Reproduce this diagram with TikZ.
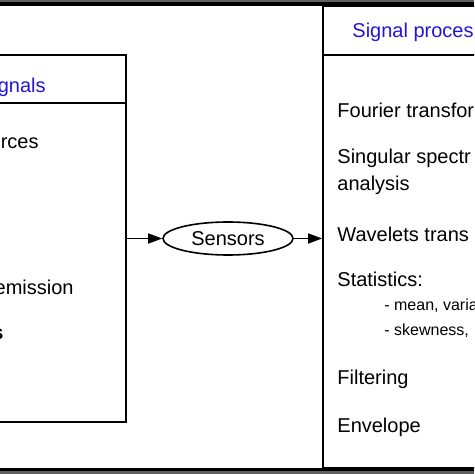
\documentclass[tikz,border=0pt]{standalone}
\usepackage{fontspec}
\setmainfont{Liberation Sans}
\usetikzlibrary{arrows.meta,shapes.geometric,positioning}

\definecolor{headblue}{RGB}{35,20,215}

\tikzset{
  panel/.style={draw, line width=0.85pt, rectangle, inner sep=0pt},
  label/.style={inner sep=0pt, anchor=base west, font=\fontsize{10}{12}\selectfont},
  sublabel/.style={inner sep=0pt, anchor=base west, font=\fontsize{8}{10}\selectfont},
  head/.style={label, text=headblue},
  arr/.style={-{Triangle[length=7pt,width=5pt]}, line width=0.8pt},
}

\begin{document}
\begin{tikzpicture}[x=0.5pt,y=-0.5pt]
  \useasboundingbox (0,0) rectangle (474,474);
  \clip (0,0) rectangle (474,474);

  % Frame bands
  \fill[gray!75!black] (0,0) rectangle (474,2.5);
  \fill[black]         (0,2.5) rectangle (474,6);
  \fill[black]         (0,468) rectangle (474,471);
  \fill[gray!75!black] (0,471) rectangle (474,474);

  % Nodes
  \node[panel, minimum width=93pt, minimum height=183.5pt]  (lbox) at (33,238.5) {};
  \node[panel, minimum width=108.5pt, minimum height=231pt] (rbox) at (431.5,237) {};
  \node[draw, ellipse, line width=0.8pt, minimum width=65pt, minimum height=16.5pt,
        inner sep=0pt, font=\fontsize{10}{12}\selectfont] (sensors) at (228,238.5) {Sensors};

  % Header rules
  \draw[line width=0.85pt] (lbox.west |- 0,103) -- (lbox.east |- 0,103);
  \draw[line width=0.85pt] (rbox.west |- 0,55)  -- (rbox.east |- 0,55);

  % Left panel text
  \node[head, anchor=base east]  (sighead) at (46,93)  {gnals};
  \node[label, anchor=base east] (forces)  at (39,149) {rces};
  \node[label, anchor=base east] (emis)    at (74,295) {emission};
  \node[label, anchor=base east, font=\fontsize{10}{12}\selectfont\bfseries] (last) at (4,339) {s};

  % Right panel text
  \node[head]     (prochead) at (352,38)  {Signal proces};
  \node[label]    (fourier)  at (337,118) {Fourier transfor};
  \node[label]    (ssa)      at (337,164) {Singular spectr};
  \node[label]    (ssa2)     at (337,191) {analysis};
  \node[label]    (wavelet)  at (337,242) {Wavelets trans};
  \node[label]    (stats)    at (337,286) {Statistics:};
  \node[sublabel] (mean)     at (384,310) {- mean, varia};
  \node[sublabel] (skew)     at (384,335) {- skewness,};
  \node[label]    (filter)   at (337,384) {Filtering};
  \node[label]    (envel)    at (337,432) {Envelope};

  % Edges
  \draw[arr] (lbox.east |- sensors.west) -- (sensors.west);
  \draw[arr] (sensors.east) -- (rbox.west |- sensors.east);
\end{tikzpicture}
\end{document}
